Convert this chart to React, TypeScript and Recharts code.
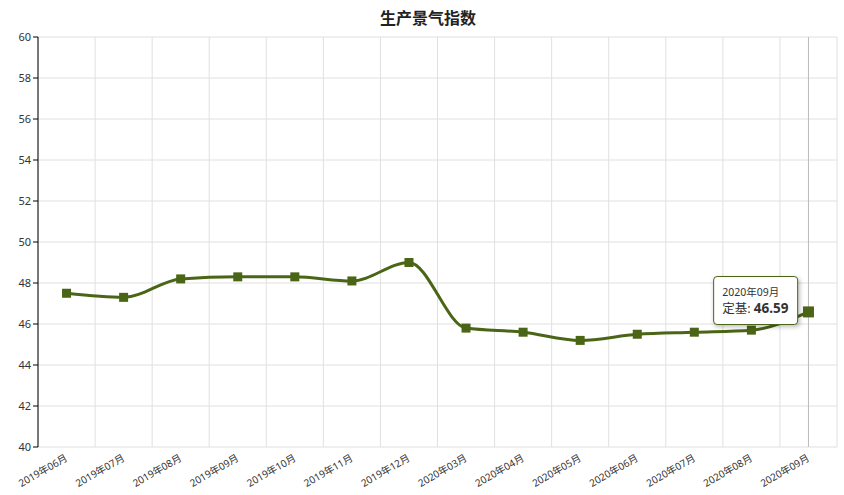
import { CartesianGrid, Line, LineChart, Tooltip, XAxis, YAxis } from 'recharts'

const months = [
  '2019年06月',
  '2019年07月',
  '2019年08月',
  '2019年09月',
  '2019年10月',
  '2019年11月',
  '2019年12月',
  '2020年03月',
  '2020年04月',
  '2020年05月',
  '2020年06月',
  '2020年07月',
  '2020年08月',
  '2020年09月',
]
const values = [47.5, 47.3, 48.2, 48.3, 48.3, 48.1, 49.0, 45.8, 45.6, 45.2, 45.5, 45.6, 45.7, 46.59]
const yTicks = [40, 42, 44, 46, 48, 50, 52, 54, 56, 58, 60]

const GREEN = '#4b6516'
const FONT = "'Noto Sans', 'Noto Sans CJK SC', sans-serif"

const data = months.map((m, i) => ({ idx: i, month: m, value: values[i] }))
const centers = months.map((_, i) => i)
const bounds = [...months.map((_, i) => i - 0.5), months.length - 0.5]

function MonthTick(props: any) {
  const { x, y, payload } = props
  return (
    <g transform={`translate(${x},${y + 2}) rotate(-30)`}>
      <text textAnchor="end" dy="0.35em" fontSize={10} fill="#333" fontFamily={FONT}>
        {months[payload.value]}
      </text>
    </g>
  )
}

function NoLabel() {
  return <g />
}

function SquareDot(props: any) {
  const { cx, cy, index } = props
  if (cx == null || cy == null) return <g key={index} />
  return <rect key={index} x={cx - 4.5} y={cy - 4.5} width={9} height={9} fill={GREEN} />
}

function ActiveSquare(props: any) {
  const { cx, cy } = props
  if (cx == null || cy == null) return <g />
  return <rect x={cx - 5.5} y={cy - 5.5} width={11} height={11} fill={GREEN} />
}

function TipBox(props: any) {
  const { active, payload } = props
  if (!active || !payload || !payload.length) return null
  const p = payload[0].payload
  return (
    <div
      style={{
        background: '#fff',
        border: `1px solid ${GREEN}`,
        borderRadius: 4,
        padding: '8px 9px 6px 8px',
        boxShadow: '1px 2px 4px rgba(0,0,0,0.25)',
        fontFamily: FONT,
        color: '#333',
        lineHeight: 1.35,
        whiteSpace: 'nowrap',
      }}
    >
      <div style={{ fontSize: 10.5 }}>{p.month}</div>
      <div style={{ fontSize: 12.5 }}>
        定基:{' '}
        <b style={{ fontSize: 13.5 }}>{p.value.toFixed(2)}</b>
      </div>
    </div>
  )
}

export default function App() {
  return (
    <div style={{ position: 'absolute', left: 0, top: 0, width: 844, height: 495, background: '#fff' }}>
      <div
        style={{
          position: 'absolute',
          top: 5,
          left: 6,
          width: 844,
          textAlign: 'center',
          fontFamily: FONT,
          fontWeight: 'bold',
          fontSize: 16,
          color: '#222',
        }}
      >
        生产景气指数
      </div>
      <LineChart width={844} height={495} data={data} margin={{ top: 37, right: 7, bottom: 0, left: 0 }}>
        <CartesianGrid stroke="#e0e0e0" />
        <XAxis
          type="number"
          dataKey="idx"
          domain={[-0.5, months.length - 0.5]}
          ticks={bounds}
          interval={0}
          height={0}
          tick={<NoLabel />}
          tickSize={5}
          tickLine={{ stroke: '#000' }}
          axisLine={{ stroke: '#000' }}
        />
        <XAxis
          xAxisId="l"
          type="number"
          dataKey="idx"
          domain={[-0.5, months.length - 0.5]}
          ticks={centers}
          interval={0}
          height={48}
          axisLine={false}
          tickLine={false}
          tick={<MonthTick />}
        />
        <YAxis
          domain={[40, 60]}
          ticks={yTicks}
          interval={0}
          width={38}
          tickSize={5}
          tickLine={{ stroke: '#000' }}
          axisLine={{ stroke: '#000' }}
          tick={{ fontSize: 11, fill: '#333', fontFamily: FONT }}
        />
        <Tooltip
          defaultIndex={13}
          content={<TipBox />}
          cursor={{ stroke: '#bbb', strokeWidth: 1 }}
          isAnimationActive={false}
        />
        <Line
          type="monotone"
          dataKey="value"
          stroke={GREEN}
          strokeWidth={3}
          dot={<SquareDot />}
          activeDot={<ActiveSquare />}
          isAnimationActive={false}
        />
      </LineChart>
    </div>
  )
}
